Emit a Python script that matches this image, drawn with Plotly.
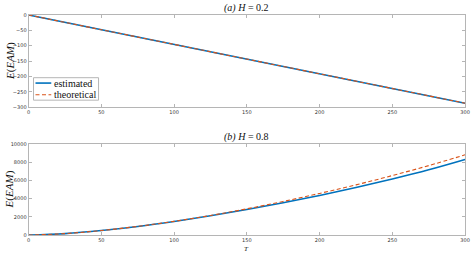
import plotly.graph_objects as go

T = [0, 25, 50, 75, 100, 125, 150, 175, 200, 225, 250, 275, 300]
est_a = [0, -24, -48, -72, -96, -120, -144, -167, -191, -215, -239, -263, -287]
theo_a = [0, -24, -48, -72, -96, -120, -144, -167, -191, -215, -239, -263, -287]
est_b = [0, 165, 500, 950, 1500, 2120, 2800, 3540, 4350, 5220, 6160, 7170, 8300]
theo_b = [0, 165, 500, 955, 1510, 2150, 2880, 3690, 4570, 5510, 6530, 7620, 8800]

x_ticks = [0, 50, 100, 150, 200, 250, 300]
ya_ticks = [0, -50, -100, -150, -200, -250, -300]
yb_ticks = [0, 2000, 4000, 6000, 8000, 10000]
legend_names = ["estimated", "theoretical"]

BLUE = "#0072BD"
ORANGE = "#D95319"
FRAME = "#b5b5b5"
SERIF = "Liberation Serif"
DASH = "4px,2.5px"
W, H = 474, 255

fig = go.Figure()
fig.add_trace(go.Scatter(x=T, y=est_a, mode="lines", name=legend_names[0],
                         line=dict(color=BLUE, width=1.6), xaxis="x", yaxis="y"))
fig.add_trace(go.Scatter(x=T, y=theo_a, mode="lines", name=legend_names[1],
                         line=dict(color=ORANGE, width=1.1, dash=DASH), xaxis="x", yaxis="y"))
fig.add_trace(go.Scatter(x=T, y=est_b, mode="lines", line_shape="spline",
                         line=dict(color=BLUE, width=1.6), xaxis="x2", yaxis="y2"))
fig.add_trace(go.Scatter(x=T, y=theo_b, mode="lines", line_shape="spline",
                         line=dict(color=ORANGE, width=1.1, dash=DASH), xaxis="x2", yaxis="y2"))

xdom = [27 / W, 470 / W]
axis_common = dict(showgrid=False, zeroline=False, showline=True, linecolor=FRAME, linewidth=1,
                   mirror="ticks", ticks="inside", ticklen=3, tickcolor=FRAME,
                   ticklabeloverflow="allow", tickformat="d",
                   tickfont=dict(size=5, color="#333333", family="DejaVu Sans"))

fig.update_layout(
    width=W, height=H,
    margin=dict(l=0, r=0, t=0, b=0),
    paper_bgcolor="white", plot_bgcolor="white",
    showlegend=False,
    xaxis=dict(domain=xdom, range=[0, 300], tickvals=x_ticks, anchor="y", **axis_common),
    yaxis=dict(domain=[1 - 106.7 / H, 1 - 12.3 / H], range=[-300, 0], tickvals=ya_ticks,
               anchor="x", **axis_common),
    xaxis2=dict(domain=xdom, range=[0, 300], tickvals=x_ticks, anchor="y2", **axis_common),
    yaxis2=dict(domain=[1 - 237.7 / H, 1 - 144.3 / H], range=[0, 10000], tickvals=yb_ticks,
                anchor="x2", **axis_common),
)

# custom legend box (MATLAB style)
def px(x): return x / W
def py(y): return 1 - y / H

fig.add_shape(type="rect", xref="paper", yref="paper", x0=px(32), x1=px(98), y0=py(99.5), y1=py(76.5),
              line=dict(color=FRAME, width=1), fillcolor="white", layer="above")
fig.add_shape(type="line", xref="paper", yref="paper", x0=px(34), x1=px(50), y0=py(82), y1=py(82),
              line=dict(color=BLUE, width=1.6), layer="above")
fig.add_shape(type="line", xref="paper", yref="paper", x0=px(34), x1=px(50), y0=py(94), y1=py(94),
              line=dict(color=ORANGE, width=1.1, dash=DASH), layer="above")
for name, yy in zip(legend_names, [82, 94]):
    fig.add_annotation(text=name, x=px(50.5), y=py(yy), xref="paper", yref="paper",
                       xanchor="left", yanchor="middle", showarrow=False,
                       font=dict(family=SERIF, size=10, color="#111111"))

annots = [
    dict(text="<i>(a) H</i> = 0.2", x=248.5, y=5.5, size=10),
    dict(text="<i>(b) H</i> = 0.8", x=248.5, y=137.5, size=10),
    dict(text="<i>T</i>", x=248.5, y=251.5, size=7),
]
for a in annots:
    fig.add_annotation(text=a["text"], x=px(a["x"]), y=py(a["y"]), xref="paper", yref="paper",
                       xanchor="center", yanchor="middle", showarrow=False,
                       font=dict(family=SERIF, size=a["size"], color="#111111"))
for yc in [59.5, 191]:
    fig.add_annotation(text="<i>E</i>(<i>EAM</i>)", x=px(8), y=py(yc),
                       xref="paper", yref="paper", xanchor="center", yanchor="middle",
                       showarrow=False, textangle=-90,
                       font=dict(family=SERIF, size=11, color="#111111"))

fig.write_html("out.html")
